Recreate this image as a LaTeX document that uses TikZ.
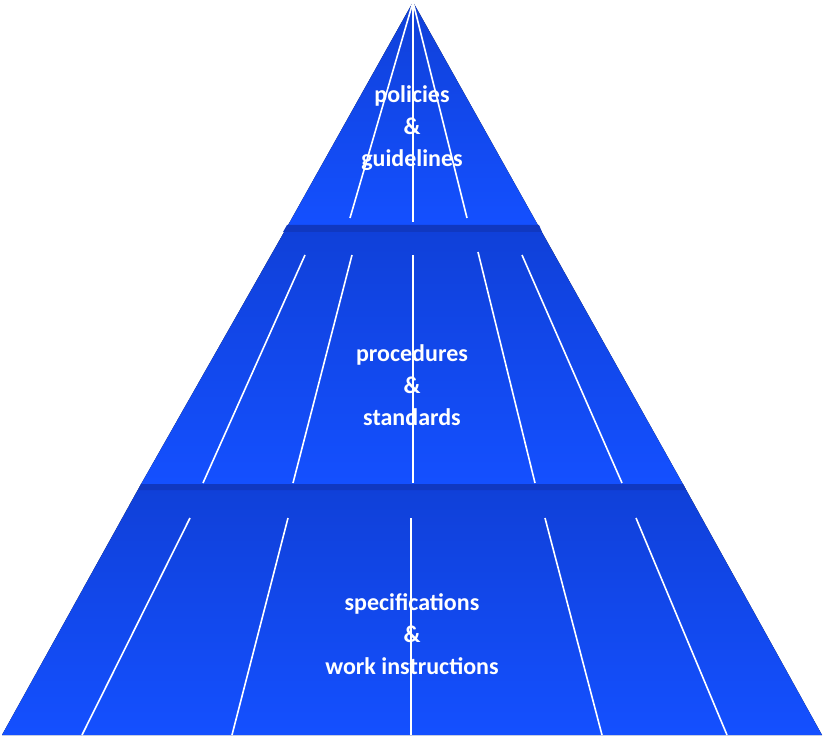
\documentclass[tikz,border=0pt]{standalone}
\usepackage{fontspec}
\setmainfont{Carlito}
\begin{document}
\begin{tikzpicture}[x=1pt,y=-1pt,
  tier/.style={top color=blue1,bottom color=blue2,draw=none},
  wl/.style={draw=white,line width=1.6pt},
  lbl/.style={text=white,font=\bfseries\fontsize{24}{32}\selectfont,align=center}]
\definecolor{blue1}{HTML}{1040D8}
\definecolor{blue2}{HTML}{1450FF}
\definecolor{band}{HTML}{1038C0}
\useasboundingbox (0,0) rectangle (825,743);
\coordinate (apex) at (413,2);
% tier 1
\fill[tier] (apex) -- (539,227) -- (287,227) -- cycle;
% tier 2
\fill[tier] (287,227) -- (539,227) -- (684,486) -- (140,486) -- cycle;
\fill[band] (287,225) -- (539,225) -- (542,232) -- (283,232) -- cycle;
% tier 3
\fill[tier] (140,486) -- (684,486) -- (822,735) -- (2,735) -- cycle;
\fill[band] (141,484) -- (683,484) -- (686,490) -- (138,490) -- cycle;
% lines tier1
\coordinate (a1) at (350,218); \coordinate (a2) at (413,222); \coordinate (a3) at (467,218);
\draw[wl] (apex) -- (a1); \draw[wl] (apex) -- (a2); \draw[wl] (apex) -- (a3);
% tier2
\coordinate (b1) at (305,255); \coordinate (b1e) at (203,483);
\coordinate (b2) at (352,255); \coordinate (b2e) at (293,483);
\coordinate (b3) at (413,255); \coordinate (b3e) at (413,483);
\coordinate (b4) at (478,252); \coordinate (b4e) at (535,483);
\coordinate (b5) at (522,255); \coordinate (b5e) at (622,483);
\foreach \i in {1,...,5}{\draw[wl] (b\i) -- (b\i e);}
% tier3
\coordinate (c1) at (190,518); \coordinate (c1e) at (82,735);
\coordinate (c2) at (288,518); \coordinate (c2e) at (232,735);
\coordinate (c3) at (411,518); \coordinate (c3e) at (411,735);
\coordinate (c4) at (545,518); \coordinate (c4e) at (602,735);
\coordinate (c5) at (636,518); \coordinate (c5e) at (727,735);
\foreach \i in {1,...,5}{\draw[wl] (c\i) -- (c\i e);}
\node[lbl] (t1) at (412,128) {policies\\\&\\guidelines};
\node[lbl] (t2) at (412,385) {procedures\\\&\\standards};
\node[lbl] (t3) at (412,634) {specifications\\\&\\work instructions};
\end{tikzpicture}
\end{document}
